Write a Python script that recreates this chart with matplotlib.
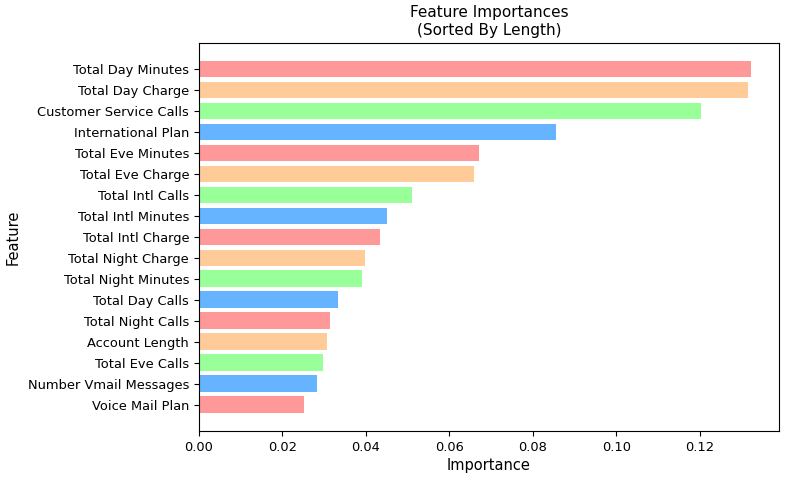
import matplotlib
matplotlib.use("Agg")
import matplotlib.pyplot as plt

features = ["Total Day Minutes", "Total Day Charge", "Customer Service Calls",
            "International Plan", "Total Eve Minutes", "Total Eve Charge",
            "Total Intl Calls", "Total Intl Minutes", "Total Intl Charge",
            "Total Night Charge", "Total Night Minutes", "Total Day Calls",
            "Total Night Calls", "Account Length", "Total Eve Calls",
            "Number Vmail Messages", "Voice Mail Plan"]
importances = [0.1323, 0.1316, 0.1203, 0.0854, 0.0672, 0.0660, 0.0510,
               0.0450, 0.0433, 0.0397, 0.0390, 0.0333, 0.0313, 0.0306,
               0.0297, 0.0282, 0.0251]
palette = ["#ff9999", "#66b3ff", "#99ff99", "#ffcc99"]

# plot from the bottom up so colours cycle from the smallest bar
feats = features[::-1]
vals = importances[::-1]
colors = [palette[i % 4] for i in range(len(feats))]

fig = plt.figure(figsize=(7.86, 4.82), dpi=100)
ax = fig.add_axes([0.253, 0.106, 0.738, 0.805])
ax.barh(feats, vals, color=colors)
ax.set_xlabel("Importance", fontsize=10.5, labelpad=3)
ax.set_ylabel("Feature", fontsize=10.5, labelpad=5)
ax.set_title("Feature Importances\n(Sorted By Length)", fontsize=11)
ax.set_xticks([0, 0.02, 0.04, 0.06, 0.08, 0.10, 0.12])
ax.set_xlim(0, 0.1389)
ax.tick_params(labelsize=9.4)
fig.savefig("out.png", dpi=100)
